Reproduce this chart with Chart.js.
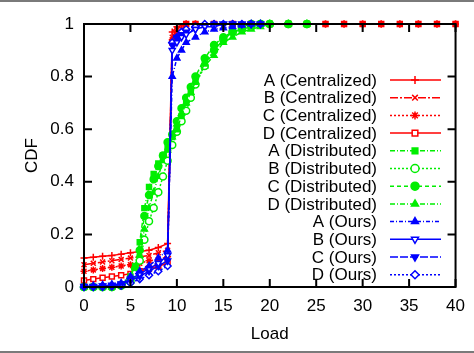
<!DOCTYPE html>
<html>
<head>
<meta charset="utf-8">
<script src="https://cdn.jsdelivr.net/npm/chart.js@4/dist/chart.umd.min.js"></script>
<style>
  body { margin: 0; background: #fff; }
  canvas { display: block; }
</style>
</head>
<body>
<canvas id="grafico" width="474" height="353"></canvas>
<script>
// tick values
const xTicks = [0, 5, 10, 15, 20, 25, 30, 35, 40]
const yTicks = [0, 0.2, 0.4, 0.6, 0.8, 1]
const yTickLabels = ['0', '0.2', '0.4', '0.6', '0.8', '1']

// loads for each group
const loadCen = [0, 1, 2, 3, 4, 5, 6, 7, 8, 9, 9.5, 10, 11, 12, 14, 16, 18, 20, 22, 24, 26, 28, 30, 32, 34, 36, 38, 40]
const loadDist = [0, 1, 2, 3, 4, 5, 5.5, 6, 6.5, 7, 7.5, 8, 8.5, 9, 9.5, 10, 10.5, 11, 11.5, 12, 13, 14, 15, 16, 17, 18, 19, 20, 22, 24]
const loadOurs = [0, 1, 2, 3, 4, 5, 6, 7, 8, 9, 9.5, 10, 10.5, 11, 12, 13, 14, 15, 16, 17, 18, 19]

// CDF values
const cenA = [0.11, 0.113, 0.117, 0.12, 0.125, 0.13, 0.135, 0.14, 0.15, 0.165, 0.97, 0.99, 1, 1, 1, 1, 1, 1, 1, 1, 1, 1, 1, 1, 1, 1, 1, 1]
const cenB = [0.085, 0.09, 0.095, 0.1, 0.105, 0.11, 0.115, 0.12, 0.13, 0.14, 0.95, 0.98, 1, 1, 1, 1, 1, 1, 1, 1, 1, 1, 1, 1, 1, 1, 1, 1]
const cenC = [0.06, 0.065, 0.07, 0.075, 0.08, 0.085, 0.09, 0.1, 0.105, 0.115, 0.94, 0.97, 1, 1, 1, 1, 1, 1, 1, 1, 1, 1, 1, 1, 1, 1, 1, 1]
const cenD = [0.025, 0.03, 0.035, 0.04, 0.045, 0.05, 0.06, 0.07, 0.08, 0.09, 0.93, 0.96, 1, 1, 1, 1, 1, 1, 1, 1, 1, 1, 1, 1, 1, 1, 1, 1]

const disA = [0, 0, 0, 0, 0.01, 0.04, 0.08, 0.17, 0.3, 0.38, 0.43, 0.47, 0.5, 0.53, 0.57, 0.6, 0.65, 0.7, 0.74, 0.78, 0.85, 0.9, 0.94, 0.97, 0.98, 0.99, 1, 1, 1, 1]
const disB = [0, 0, 0, 0, 0.005, 0.02, 0.05, 0.1, 0.18, 0.25, 0.3, 0.36, 0.42, 0.48, 0.54, 0.59, 0.63, 0.67, 0.72, 0.77, 0.84, 0.9, 0.94, 0.97, 0.98, 0.99, 1, 1, 1, 1]
const disC = [0, 0, 0, 0, 0.008, 0.03, 0.07, 0.14, 0.27, 0.35, 0.41, 0.46, 0.5, 0.55, 0.58, 0.63, 0.68, 0.72, 0.76, 0.8, 0.87, 0.92, 0.95, 0.97, 0.99, 1, 1, 1, 1, 1]
const disD = [0, 0, 0, 0, 0.005, 0.025, 0.06, 0.12, 0.22, 0.3, 0.36, 0.42, 0.48, 0.52, 0.57, 0.62, 0.66, 0.7, 0.74, 0.78, 0.84, 0.88, 0.93, 0.95, 0.97, 0.98, 0.99, 1, 1, 1]

const ourA = [0.005, 0.005, 0.008, 0.01, 0.015, 0.04, 0.06, 0.08, 0.11, 0.14, 0.8, 0.87, 0.9, 0.93, 0.95, 0.97, 0.98, 0.985, 0.99, 0.995, 1, 1]
const ourB = [0.003, 0.003, 0.005, 0.008, 0.012, 0.03, 0.05, 0.07, 0.09, 0.12, 0.9, 0.93, 0.95, 0.96, 0.98, 0.99, 0.99, 1, 1, 1, 1, 1]
const ourC = [0.002, 0.002, 0.004, 0.006, 0.01, 0.025, 0.04, 0.06, 0.08, 0.1, 0.92, 0.95, 0.96, 0.97, 0.98, 0.99, 1, 1, 1, 1, 1, 1]
const ourD = [0, 0, 0, 0.002, 0.005, 0.015, 0.03, 0.045, 0.06, 0.08, 0.93, 0.95, 0.97, 0.98, 0.99, 1, 1, 1, 1, 1, 1, 1]

const ROJO = '#ff0000'
const VERDE = '#00ee00'
const AZUL = '#0000ff'
const FUENTE = '"Liberation Sans", Arial, Helvetica, sans-serif'

const serie = (label, xs, ys, color, dash, style, filled, rot, order) => ({
  label: label,
  data: xs.map((x, i) => ({ x: x, y: ys[i] })),
  borderColor: color,
  borderWidth: 1.5,
  borderDash: dash,
  pointStyle: style,
  pointRadius: 3.5,
  pointBorderColor: color,
  pointBackgroundColor: filled ? color : '#fff',
  pointBorderWidth: 1.5,
  pointRotation: rot,
  tension: 0,
  clip: 8,
  order: order,
})

const datasets = [
  serie('A (Centralized)', loadCen, cenA, ROJO, [], 'cross', true, 0, 3),
  serie('B (Centralized)', loadCen, cenB, ROJO, [8, 2, 2, 2], 'crossRot', true, 0, 3),
  serie('C (Centralized)', loadCen, cenC, ROJO, [2, 2], 'star', true, 0, 3),
  serie('D (Centralized)', loadCen, cenD, ROJO, [], 'rect', false, 0, 3),
  serie('A (Distributed)', loadDist, disA, VERDE, [5, 2, 1, 2], 'rect', true, 0, 2),
  serie('B (Distributed)', loadDist, disB, VERDE, [2, 2], 'circle', false, 0, 2),
  serie('C (Distributed)', loadDist, disC, VERDE, [4, 3], 'circle', true, 0, 2),
  serie('D (Distributed)', loadDist, disD, VERDE, [5, 2, 1, 2], 'triangle', true, 0, 2),
  serie('A (Ours)', loadOurs, ourA, AZUL, [4, 2, 1, 2], 'triangle', true, 0, 1),
  serie('B (Ours)', loadOurs, ourB, AZUL, [], 'triangle', false, 180, 1),
  serie('C (Ours)', loadOurs, ourC, AZUL, [8, 2], 'triangle', true, 180, 1),
  serie('D (Ours)', loadOurs, ourD, AZUL, [2, 2], 'rectRot', false, 0, 1),
]

// fondo blanco y bandas grises arriba/abajo
const fondo = {
  id: 'fondo',
  beforeDraw(chart) {
    const ctx = chart.ctx
    ctx.save()
    ctx.fillStyle = '#fff'
    ctx.fillRect(0, 0, chart.width, chart.height)
    ctx.restore()
  },
  afterDraw(chart) {
    const ctx = chart.ctx
    ctx.save()
    ctx.fillStyle = '#7a7a7a'
    ctx.fillRect(0, 0, chart.width, 2)
    ctx.fillRect(0, chart.height - 2, chart.width, 2)
    ctx.restore()
  },
}

// marco con ticks hacia dentro (estilo gnuplot)
const marco = {
  id: 'marco',
  afterDatasetsDraw(chart) {
    const { ctx, chartArea: a } = chart
    const sx = chart.scales.x
    const sy = chart.scales.y
    const len = 8
    ctx.save()
    ctx.strokeStyle = '#000'
    ctx.lineWidth = 2
    ctx.strokeRect(a.left, a.top, a.right - a.left, a.bottom - a.top)
    ctx.beginPath()
    xTicks.forEach((v) => {
      const px = sx.getPixelForValue(v)
      ctx.moveTo(px, a.bottom); ctx.lineTo(px, a.bottom - len)
      ctx.moveTo(px, a.top); ctx.lineTo(px, a.top + len)
    })
    yTicks.forEach((v) => {
      const py = sy.getPixelForValue(v)
      ctx.moveTo(a.left, py); ctx.lineTo(a.left + len, py)
      ctx.moveTo(a.right, py); ctx.lineTo(a.right - len, py)
    })
    ctx.stroke()
    ctx.restore()
  },
}

// leyenda a la derecha: texto alineado a la derecha, muestra de linea despues
const leyenda = {
  id: 'leyenda',
  afterDraw(chart) {
    const ctx = chart.ctx
    ctx.save()
    ctx.font = '17px ' + FUENTE
    ctx.textAlign = 'right'
    ctx.textBaseline = 'middle'
    chart.data.datasets.forEach((ds, i) => {
      const y = 80 + i * 17.7
      ctx.fillStyle = '#000'
      ctx.fillText(ds.label, 377, y + 1)
      ctx.strokeStyle = ds.borderColor
      ctx.lineWidth = ds.borderWidth
      ctx.setLineDash(ds.borderDash)
      ctx.beginPath()
      ctx.moveTo(390, y)
      ctx.lineTo(441, y)
      ctx.stroke()
      ctx.setLineDash([])
      ctx.fillStyle = ds.pointBackgroundColor
      ctx.strokeStyle = ds.pointBorderColor
      ctx.lineWidth = ds.pointBorderWidth
      Chart.helpers.drawPoint(ctx, {
        pointStyle: ds.pointStyle,
        radius: ds.pointRadius + 0.5,
        rotation: ds.pointRotation,
        borderWidth: ds.pointBorderWidth,
      }, 415, y)
    })
    ctx.restore()
  },
}

const ctx = document.getElementById('grafico').getContext('2d')
const miGrafico = new Chart(ctx, {
  type: 'line',
  data: { datasets: datasets },
  plugins: [fondo, marco, leyenda],
  options: {
    responsive: false,
    animation: false,
    devicePixelRatio: 1,
    layout: { padding: { left: 0, right: 11, top: 24, bottom: 0 } },
    plugins: { legend: { display: false }, tooltip: { enabled: false } },
    scales: {
      x: {
        type: 'linear',
        min: 0,
        max: 40,
        afterBuildTicks: (s) => { s.ticks = xTicks.map((v) => ({ value: v })) },
        afterFit: (s) => { s.height = 66 },
        grid: { display: false, drawTicks: false },
        border: { display: false },
        ticks: { color: '#000', font: { family: FUENTE, size: 17 }, padding: 9, maxRotation: 0 },
        title: { display: true, text: 'Load', color: '#000', font: { family: FUENTE, size: 17 }, padding: { top: 0, bottom: 8 } },
      },
      y: {
        type: 'linear',
        min: 0,
        max: 1,
        afterBuildTicks: (s) => { s.ticks = yTicks.map((v) => ({ value: v })) },
        afterFit: (s) => { s.width = 84 },
        grid: { display: false, drawTicks: false },
        border: { display: false },
        ticks: {
          color: '#000',
          font: { family: FUENTE, size: 17 },
          padding: 10,
          callback: (v) => yTickLabels[yTicks.indexOf(v)],
        },
        title: { display: true, text: 'CDF', color: '#000', font: { family: FUENTE, size: 17 }, padding: { top: 22, bottom: 0 } },
      },
    },
  },
})
</script>
</body>
</html>
